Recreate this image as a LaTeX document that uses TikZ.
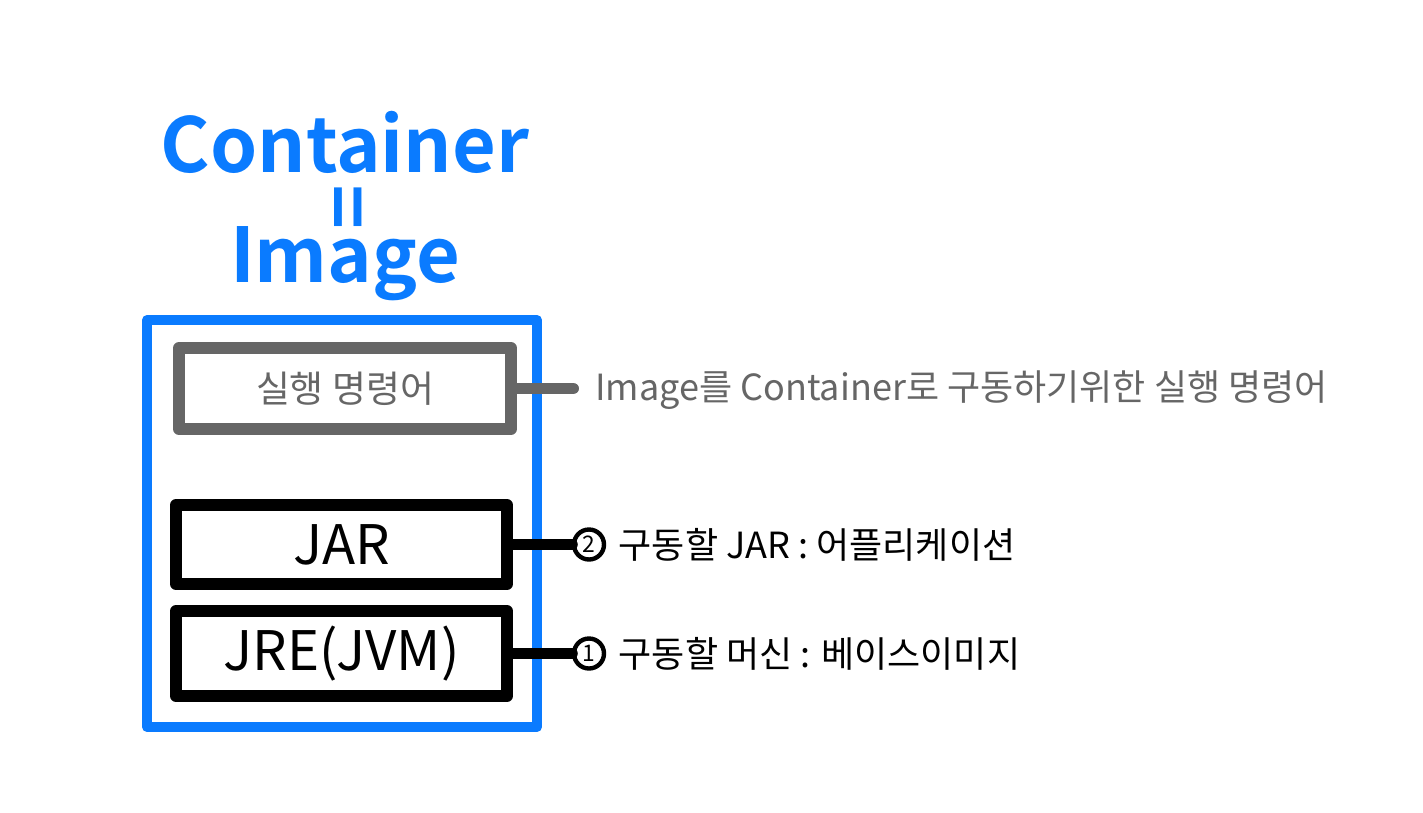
\documentclass[tikz,border=0pt]{standalone}
\usepackage{fontspec}
\setmainfont{Noto Sans CJK KR}[BoldFont={* Bold}]
\usetikzlibrary{positioning}
\definecolor{ctblue}{HTML}{0A7BFF}
\definecolor{cmdgray}{HTML}{666666}
\definecolor{ink}{HTML}{000000}
\tikzset{
  ctbox/.style={draw=ctblue, line width=5.7pt, line join=round, minimum width=7.8cm, minimum height=8.14cm},
  layer/.style={draw=ink, line width=6.8pt, line join=round, minimum width=6.62cm, inner sep=0pt, font=\fontsize{31}{34}\selectfont},
  cmdlayer/.style={layer, draw=cmdgray, text=cmdgray, font=\fontsize{21}{24}\selectfont},
  link/.style={draw=ink, line width=6.8pt, line cap=round},
  num/.style={circle, draw=ink, fill=white, line width=2.5pt, minimum size=0.6cm, inner sep=0pt, font=\fontsize{13}{15}\selectfont},
  note/.style={anchor=west, inner sep=0pt, font=\fontsize{20.5}{24}\selectfont},
  title/.style={text=ctblue, font=\fontsize{43}{48}\selectfont\bfseries},
}

\begin{document}
\begin{tikzpicture}[x=0.02cm, y=-0.02cm]
  \useasboundingbox (0,0) rectangle (1423,812);

  % title
  \node[title] (ctname) at (345,142) {Container};
  \node[title, rotate=90] (eq) at (355,207) {=};
  \node[title] (imgname) at (345,264) {Image};

  % container and its layers
  \node[ctbox] (ct) at (342,523.5) {};
  \node[cmdlayer, minimum width=6.64cm, minimum height=1.62cm] (cmd) at (345,388.5) {실행 명령어};
  \node[layer, minimum height=1.58cm] (jar) at (341.5,544.5) {JAR};
  \node[layer, minimum height=1.7cm] (jre) at (341.5,653.5) {JRE(JVM)};

  % notes on the right
  \coordinate (cmdend) at (573,388.5);
  \draw[link, draw=cmdgray] (cmd.east) -- (cmdend);
  \node[note, text=cmdgray] (cmdnote) at (595,390) {Image를 Container로 구동하기위한 실행 명령어};

  \node[num] (two) at (589,544.5) {2};
  \draw[link] (jar.east) -- (two.west);
  \node[note, right=7pt of two] (jarnote) {구동할 JAR : 어플리케이션};

  \node[num] (one) at (589,653.5) {1};
  \draw[link] (jre.east) -- (one.west);
  \node[note, right=7pt of one] (jrenote) {구동할 머신 : 베이스이미지};
\end{tikzpicture}
\end{document}
